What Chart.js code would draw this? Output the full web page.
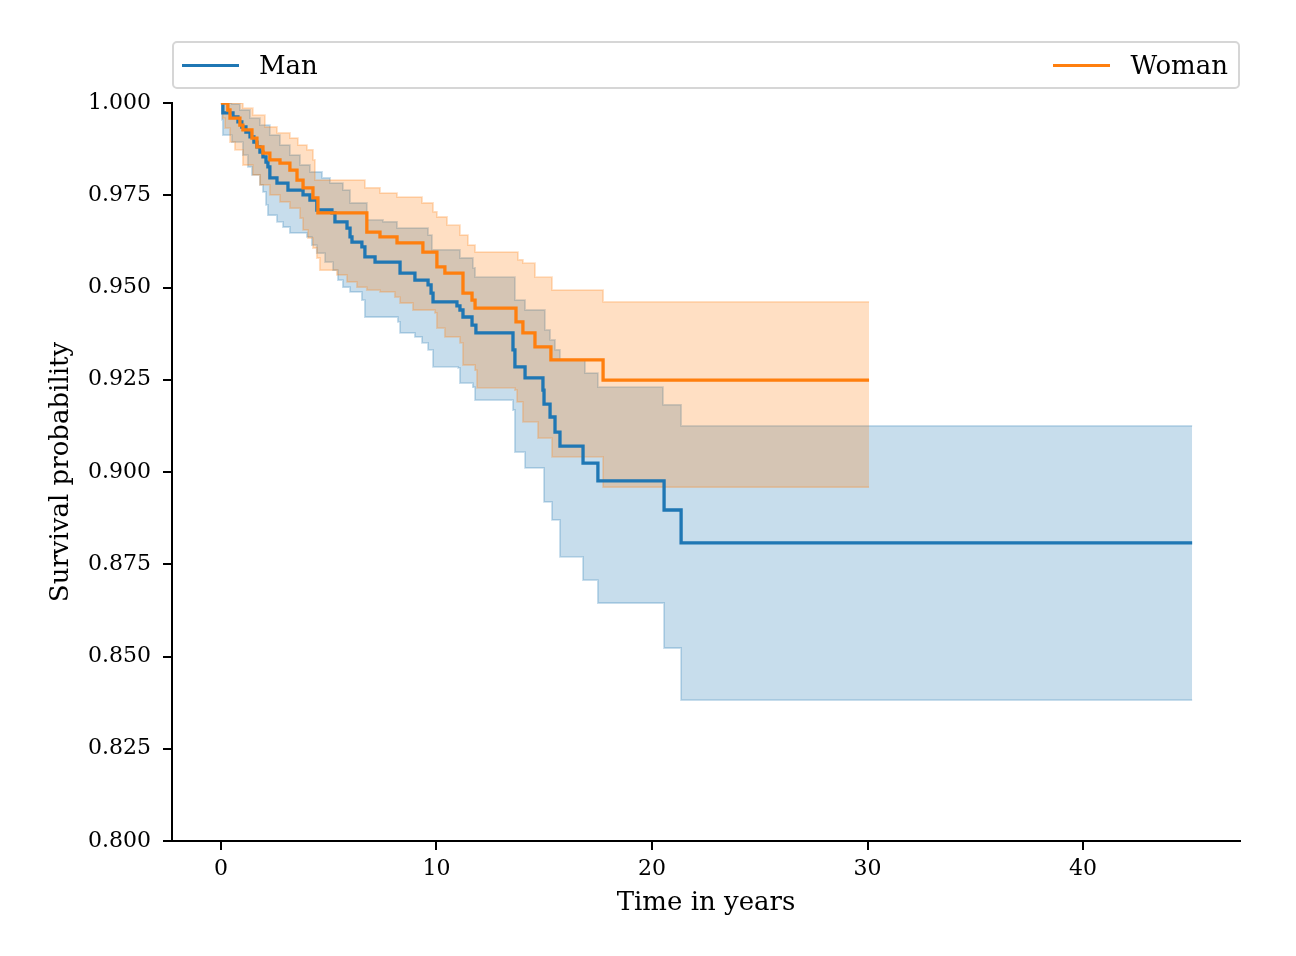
<!DOCTYPE html>
<html>
<head>
<meta charset="utf-8">
<title>Survival probability by sex</title>
<script src="https://cdn.jsdelivr.net/npm/chart.js@4.4.1/dist/chart.umd.min.js"></script>
<style>
  body { margin: 0; background: #fff; }
  #wrap { position: relative; width: 1296px; height: 956px; }
  #legend {
    position: absolute; left: 172px; top: 41px; width: 1064px; height: 44px;
    border: 2px solid #d6d6d6; border-radius: 5px; background: #fff;
    font-family: 'DejaVu Serif', serif; font-size: 26px; color: #000;
  }
  #legend .item { position: absolute; top: 0; height: 100%; display: flex; align-items: center; }
  #legend .swatch { display: inline-block; width: 57px; height: 3px; margin-right: 20px; }
</style>
</head>
<body>
<div id="wrap">
  <canvas id="km" width="1296" height="956"></canvas>
  <div id="legend">
    <div class="item" style="left:8px"><span class="swatch" style="background:#1f77b4"></span>Man</div>
    <div class="item" style="right:10px"><span class="swatch" style="background:#ff7f0e"></span>Woman</div>
  </div>
</div>
<script>
// tick labels
const xTicks = [0, 10, 20, 30, 40];
const yTicks = [0.800, 0.825, 0.850, 0.875, 0.900, 0.925, 0.950, 0.975, 1.000];

// Man - Kaplan-Meier estimate (years, probability)
const manTime = [0, 0.09, 0.56, 0.79, 0.97, 1.16, 1.35, 1.53, 1.67, 1.81, 1.95, 2.09, 2.18, 2.27, 2.60, 3.11, 3.81, 4.13, 4.45, 5.15,
  5.29, 5.85, 5.99, 6.08, 6.54, 6.68, 7.15, 8.31, 9.00, 9.61, 9.75, 9.84, 10.95, 11.09, 11.23, 11.65, 11.83, 13.55, 13.64, 14.11,
  14.94, 14.99, 15.27, 15.50, 15.73, 16.80, 17.49, 20.56, 21.35, 45.06];
const manSurv = [1.0, 0.9973, 0.9962, 0.9949, 0.9935, 0.9921, 0.9908, 0.9894, 0.9881, 0.9867, 0.9854, 0.9840, 0.9827, 0.9797, 0.9783, 0.9764, 0.9751, 0.9737, 0.9710, 0.9702,
  0.9678, 0.9661, 0.9637, 0.9623, 0.9610, 0.9583, 0.9569, 0.9539, 0.9520, 0.9507, 0.9485, 0.9461, 0.9450, 0.9439, 0.9420, 0.9398, 0.9377, 0.9331, 0.9285, 0.9255,
  0.9222, 0.9184, 0.9149, 0.9108, 0.9070, 0.9024, 0.8976, 0.8897, 0.8808, 0.8808];

// Man - confidence interval edges
const manUpTime = [0, 0.51, 0.88, 1.35, 1.81, 2.27, 2.74, 3.20, 3.67, 4.13, 4.69, 5.06, 5.66, 5.99, 6.77, 7.52, 8.17, 9.61, 9.79, 11.09,
  11.69, 11.79, 13.64, 14.11, 15.03, 15.27, 15.50, 15.73, 16.89, 17.49, 20.51, 21.35, 45.06];
const manUp = [1.0, 0.9997, 0.9981, 0.9959, 0.9940, 0.9913, 0.9886, 0.9859, 0.9832, 0.9813, 0.9797, 0.9783, 0.9764, 0.9729, 0.9683, 0.9678, 0.9661, 0.9642, 0.9602, 0.9580,
  0.9553, 0.9528, 0.9466, 0.9439, 0.9385, 0.9358, 0.9331, 0.9304, 0.9268, 0.9230, 0.9182, 0.9125, 0.9125];
const manLowTime = [0, 0.05, 0.09, 0.51, 1.02, 1.25, 1.44, 1.81, 1.95, 2.09, 2.18, 2.60, 2.88, 3.20, 3.99, 4.22, 4.45, 4.83, 5.20, 5.43,
  5.66, 5.99, 6.54, 6.68, 8.21, 8.31, 9.00, 9.33, 9.61, 9.84, 11.00, 11.09, 11.69, 11.79, 13.55, 13.64, 14.11, 14.99, 15.36, 15.73,
  16.80, 17.49, 20.56, 21.35, 45.06];
const manLow = [1.0, 0.9954, 0.9913, 0.9894, 0.9859, 0.9827, 0.9805, 0.9778, 0.9759, 0.9724, 0.9696, 0.9678, 0.9664, 0.9648, 0.9637, 0.9615, 0.9593, 0.9569, 0.9547, 0.9520,
  0.9501, 0.9488, 0.9466, 0.9420, 0.9407, 0.9377, 0.9366, 0.9350, 0.9331, 0.9285, 0.9282, 0.9241, 0.9230, 0.9195, 0.9168, 0.9054, 0.9011, 0.8919, 0.8870, 0.8770,
  0.8707, 0.8645, 0.8523, 0.8382, 0.8382];

// Woman - Kaplan-Meier estimate
const womanTime = [0, 0.32, 0.42, 0.88, 1.02, 1.44, 1.67, 1.95, 2.27, 2.74, 3.20, 3.53, 3.81, 4.27, 4.50, 6.77, 7.38, 8.17, 9.37, 10.02,
  10.39, 11.23, 11.65, 11.79, 13.69, 14.01, 14.57, 15.31, 17.73, 30.07];
const womanSurv = [1.0, 0.9981, 0.9959, 0.9940, 0.9927, 0.9905, 0.9881, 0.9864, 0.9846, 0.9837, 0.9818, 0.9791, 0.9770, 0.9743, 0.9702, 0.9650, 0.9637, 0.9621, 0.9596, 0.9556,
  0.9539, 0.9485, 0.9466, 0.9444, 0.9407, 0.9377, 0.9339, 0.9304, 0.9249, 0.9249];

// Woman - confidence interval edges
const womanUpTime = [0, 1.02, 1.48, 2.04, 2.60, 3.20, 3.57, 3.99, 4.27, 4.36, 6.68, 7.38, 8.17, 9.33, 9.84, 10.02, 10.49, 11.09, 11.46, 11.79,
  13.78, 14.01, 14.57, 15.36, 17.73, 30.07];
const womanUp = [1.0, 0.9986, 0.9967, 0.9935, 0.9919, 0.9905, 0.9886, 0.9873, 0.9846, 0.9791, 0.9770, 0.9756, 0.9745, 0.9729, 0.9705, 0.9691, 0.9669, 0.9642, 0.9615, 0.9596,
  0.9575, 0.9566, 0.9528, 0.9493, 0.9461, 0.9461];
const womanLowTime = [0, 0.09, 0.19, 0.42, 0.65, 1.02, 1.48, 1.81, 2.27, 2.74, 3.20, 3.67, 3.81, 4.04, 4.27, 4.45, 4.59, 5.38, 5.85, 6.31,
  6.77, 7.38, 8.07, 8.31, 8.91, 9.93, 10.02, 10.39, 11.09, 11.23, 11.79, 11.88, 13.64, 13.74, 14.01, 14.71, 15.36, 17.73, 30.07];
const womanLow = [1.0, 0.9959, 0.9932, 0.9894, 0.9873, 0.9832, 0.9805, 0.9778, 0.9751, 0.9732, 0.9715, 0.9688, 0.9656, 0.9634, 0.9607, 0.9580, 0.9547, 0.9534, 0.9515, 0.9501,
  0.9493, 0.9488, 0.9474, 0.9458, 0.9439, 0.9431, 0.9390, 0.9366, 0.9350, 0.9290, 0.9276, 0.9228, 0.9222, 0.9190, 0.9136, 0.9092, 0.9041, 0.8959, 0.8959];

const blue = '#1f77b4', orange = '#ff7f0e';
const blueBand = 'rgba(31,119,180,0.25)', orangeBand = 'rgba(255,127,14,0.25)';

const pts = (xs, ys) => xs.map((x, i) => ({ x: x, y: ys[i] }));

function line(label, xs, ys, color, order) {
  return { label, data: pts(xs, ys), borderColor: color, borderWidth: 3.3, pointRadius: 0,
    stepped: 'before', fill: false, order };
}
function edge(xs, ys, color, fill, order) {
  return { data: pts(xs, ys), borderColor: color, borderWidth: 1.8, pointRadius: 0,
    stepped: 'before', fill: fill, backgroundColor: color, order };
}

const font = { family: "'DejaVu Serif', serif", size: 22 };

new Chart(document.getElementById('km'), {
  type: 'line',
  data: {
    datasets: [
      line('Woman', womanTime, womanSurv, orange, 0),
      line('Man', manTime, manSurv, blue, 1),
      edge(womanUpTime, womanUp, orangeBand, '+1', 2),
      edge(womanLowTime, womanLow, orangeBand, false, 3),
      edge(manUpTime, manUp, blueBand, '+1', 4),
      edge(manLowTime, manLow, blueBand, false, 5)
    ]
  },
  options: {
    responsive: false,
    devicePixelRatio: 1,
    animation: false,
    layout: { padding: { top: 103, right: 56, left: 0, bottom: 0 } },
    plugins: { legend: { display: false }, tooltip: { enabled: false } },
    scales: {
      x: {
        type: 'linear', min: -2.27, max: 47.28,
        afterBuildTicks: s => { s.ticks = xTicks.map(v => ({ value: v })); },
        afterFit: s => { s.height = 115; },
        grid: { drawOnChartArea: false, drawTicks: true, tickLength: 9, color: '#000', lineWidth: 2 },
        border: { display: true, color: '#000', width: 2 },
        ticks: { color: '#000', font: font, padding: 6, maxRotation: 0 },
        title: { display: true, text: 'Time in years', color: '#000',
          font: { family: "'DejaVu Serif', serif", size: 26 }, padding: { top: 0, bottom: 37 } }
      },
      y: {
        type: 'linear', min: 0.8, max: 1.0,
        afterBuildTicks: s => { s.ticks = yTicks.map(v => ({ value: v })); },
        afterFit: s => { s.width = 172; },
        grid: { drawOnChartArea: false, drawTicks: true, tickLength: 9, color: '#000', lineWidth: 2 },
        border: { display: true, color: '#000', width: 2 },
        ticks: { color: '#000', font: font, padding: 12, callback: v => v.toFixed(3) },
        title: { display: true, text: 'Survival probability', color: '#000',
          font: { family: "'DejaVu Serif', serif", size: 26 }, padding: { top: 46, bottom: 0 } }
      }
    }
  }
});
</script>
</body>
</html>
